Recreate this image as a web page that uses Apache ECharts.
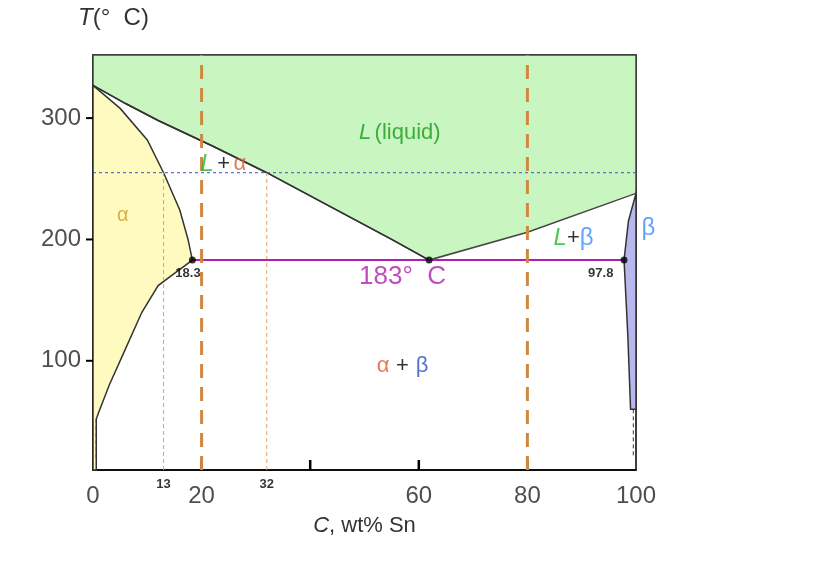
<!DOCTYPE html><html><head><meta charset="utf-8">
<script src="https://cdn.jsdelivr.net/npm/echarts@6/dist/echarts.min.js"></script>
<style>body{margin:0;background:#fff}#c{width:833px;height:576px}</style></head><body><div id="c"></div>
<script>
const liquidTop = 352;
const liquidusLeft = [[0,327],[6,312],[12,298],[22,277],[32,255],[45,224],[55,200],[61.9,183]];
const liquidusRight = [[61.9,183],[80,206],[100,238]];
const alphaSolidus = [[0,327],[5,308],[10,282],[13,255],[16,224],[17.5,200],[18.3,183]];
const alphaSolvus = [[18.3,183],[15,172],[12,162],[9,140],[6,110],[3,80],[1,57],[0.6,52]];
const betaRegion = [[97.8,183],[98.6,215],[100,238],[100,60],[99,60],[98.5,120]];
const eutectic = [[18.3,183],[97.8,183]];
const dots = [[18.3,183],[61.9,183],[97.8,183]];
const xTicks = [0,20,40,60,80,100];
const smallXLabels = [13,32];
const yTicks = [100,200,300];
const tieT = 255;

const liquidPoly = [[0,liquidTop]].concat(liquidusLeft, liquidusRight.slice(1), [[100,liquidTop]]);
const alphaPoly = [[0,10]].concat(alphaSolidus, alphaSolvus.slice(1), [[0.6,10]]);
function poly(data, fill, stroke){
  return {type:'custom', renderItem:(p,api)=>({type:'polygon',shape:{points:data.map(d=>api.coord(d))},style:{fill:fill,stroke:stroke,lineWidth:1.5}}), data:[0], z:1, silent:true};
}
function line(data,color,w,type,z){return {type:'line',data:data,symbol:'none',lineStyle:{color:color,width:w,type:type},z:z||3,silent:true};}
const R = {g:{color:'#22bb22',fontSize:24,fontStyle:'italic',fontFamily:'Liberation Sans'},
  k:{color:'#000',fontSize:22,fontFamily:'Liberation Sans'},
  o:{color:'#e05a28',fontSize:22,fontFamily:'Liberation Sans'},
  b:{color:'#3a8cff',fontSize:24,fontFamily:'Liberation Sans'},
  bb:{color:'#2a50c0',fontSize:22,fontFamily:'Liberation Sans'},
  lq:{color:'#1a9a1a',fontSize:22,fontFamily:'Liberation Sans'},
  lqi:{color:'#1a9a1a',fontSize:22,fontStyle:'italic',fontFamily:'Liberation Sans'},
  a:{color:'#c8a020',fontSize:20,fontFamily:'Liberation Sans'},
  n:{color:'#000',fontSize:13,fontWeight:'bold',fontFamily:'Liberation Sans'},
  p:{color:'#b020b0',fontSize:26,fontFamily:'Liberation Sans'}};
function txt(x,y,text){return {value:[x,y],label:{show:true,formatter:text,rich:R,position:'inside'}};}
const labels = [
  txt(56.5,288,'{lqi|L} {lq|(liquid)}'),
  txt(24,262,'{g|L} {k|+} {o|α}'),
  txt(5.5,220,'{a|α}'),
  txt(17.5,172,'{n|18.3}'),
  txt(57,169,'{p|183°  C}'),
  txt(93.5,172,'{n|97.8}'),
  txt(88.5,201,'{g|L}{k|+}{b|β}'),
  txt(102.3,209,'{b|β}'),
  txt(57,96,'{o|α}  {k|+}  {bb|β}')
];
const opt = {
  animation:false,
  grid:{left:93,right:197,top:55,bottom:106,show:true,borderColor:'#000',borderWidth:1.5},
  xAxis:{type:'value',min:0,max:100,interval:20,
    axisLine:{lineStyle:{color:'#000',width:1.5}},axisTick:{show:false},splitLine:{show:false},
    axisLabel:{show:false},
    name:'{i|C}, wt% Sn',nameLocation:'middle',nameGap:45,nameTextStyle:{fontSize:22,color:'#333',fontFamily:'Liberation Sans',rich:{i:{fontStyle:'italic',fontSize:22,color:'#333'}}}},
  yAxis:{type:'value',min:10,max:352,
    axisLine:{lineStyle:{color:'#000',width:1.5}},axisTick:{show:false},splitLine:{show:false},axisLabel:{show:false}},
  series:[
    poly(liquidPoly,'#c8f5c0','#444'),
    poly(alphaPoly,'#fffbc0','#333'),
    poly(betaRegion,'#b8b8ee','#333'),
    line(liquidusLeft,'#333',1.5,'solid'),
    line([[0,tieT],[100,tieT]],'#4050c0',1,[3,3],4),
    line([[13,10],[13,tieT]],'#e0a060',1,[4,3],4),
    line([[32,10],[32,tieT]],'#e0a060',1,[4,3],4),
    line([[20,10],[20,352]],'#d08840',3,[14,9],5),
    line([[80,10],[80,352]],'#d08840',3,[14,9],5),
    line(eutectic,'#b020b0',2,'solid',4),
    line([[0.6,52],[0.6,20]],'#333',1,[4,3]),
    line([[99.5,60],[99.5,20]],'#333',1,[4,3]),
    {type:'scatter',data:dots,symbolSize:7,itemStyle:{color:'#000'},z:6,silent:true},
    {type:'scatter',data:labels,symbolSize:0,z:7,silent:true,clip:false},
    {type:'scatter',symbolSize:0,silent:true,clip:false,data:
      xTicks.filter(v=>v!==40).map(v=>({value:[v,10],label:{show:true,position:'bottom',distance:14,formatter:String(v),fontSize:24,color:'#222',fontFamily:'Liberation Sans'}}))
      .concat(smallXLabels.map(v=>({value:[v,10],label:{show:true,position:'bottom',distance:8,formatter:String(v),fontSize:13,fontWeight:'bold',color:'#000'}})))
      .concat(yTicks.map(v=>({value:[0,v],label:{show:true,position:'left',distance:12,formatter:String(v),fontSize:24,color:'#222',fontFamily:'Liberation Sans'}})))},
    {type:'custom',silent:true,clip:false,data:xTicks.slice(1,5).map(v=>[v,10]),renderItem:(p,api)=>{const c=api.coord([api.value(0),api.value(1)]);return {type:'line',shape:{x1:c[0],y1:c[1],x2:c[0],y2:c[1]-10},style:{stroke:'#000',lineWidth:2.5}};}},
    {type:'custom',silent:true,clip:false,data:yTicks.map(v=>[0,v]),renderItem:(p,api)=>{const c=api.coord([api.value(0),api.value(1)]);return {type:'line',shape:{x1:c[0]-7,y1:c[1],x2:c[0],y2:c[1]},style:{stroke:'#000',lineWidth:2}};}}
  ],
  graphic:[{type:'text',left:78,top:6,style:{text:'{i|T}(°  C)',fontSize:24,fill:'#333',fontFamily:'Liberation Sans',rich:{i:{fontStyle:'italic',fontSize:24,fill:'#333'}}}}]
};
echarts.init(document.getElementById('c')).setOption(opt);
</script></body></html>
